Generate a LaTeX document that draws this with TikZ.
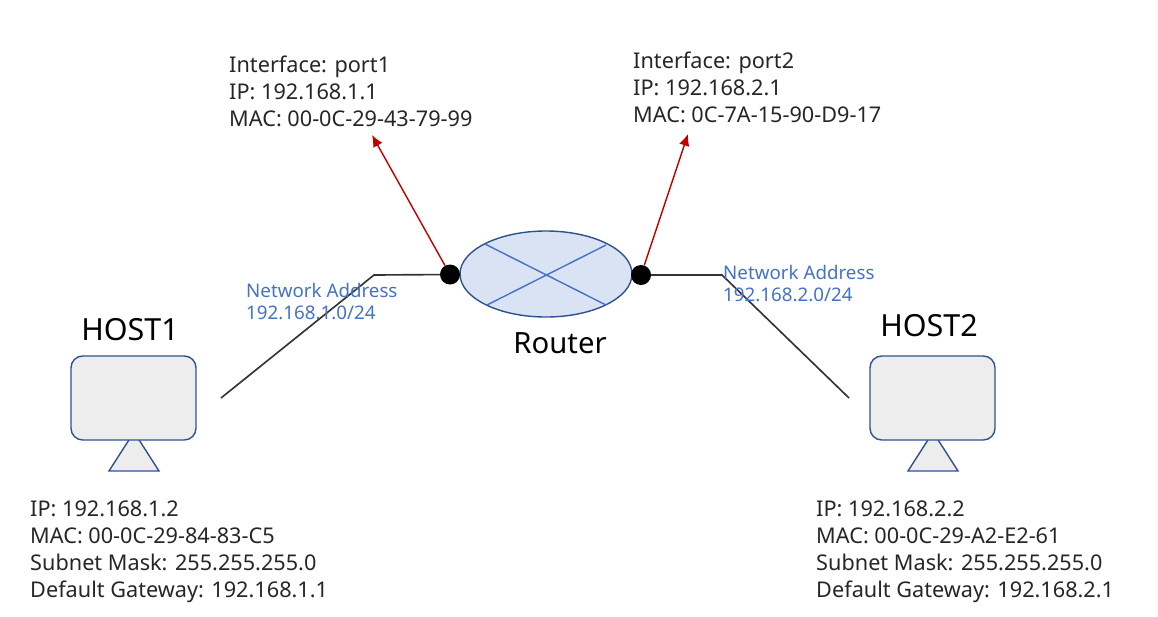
\documentclass[tikz,border=0pt]{standalone}
\usepackage{fontspec}
\usetikzlibrary{shapes.geometric,arrows.meta}
\setmainfont{Noto Sans}
\definecolor{shapeblue}{RGB}{47,82,143}
\definecolor{linkblue}{RGB}{68,114,196}
\definecolor{routerfill}{RGB}{218,227,243}
\definecolor{hostfill}{RGB}{237,237,237}
\definecolor{portred}{RGB}{192,0,0}
\tikzset{
  infotext/.style={anchor=north west,align=left,inner sep=0pt,font=\fontsize{18.5}{23}\selectfont,text=black!85},
  nettext/.style={anchor=north west,align=left,inner sep=0pt,font=\fontsize{16}{18.6}\selectfont,text=linkblue},
  titletext/.style={inner sep=0pt,font=\fontsize{26}{30}\selectfont},
  hostbox/.style={draw=shapeblue,fill=hostfill,line width=1.2pt,rounded corners=10pt},
  wire/.style={draw=black!80,line width=1.4pt},
  portdot/.style={circle,fill=black,inner sep=0pt,minimum size=0.6cm},
  redarrow/.style={-{Latex[length=10pt,width=9pt]},draw=portred,line width=1.2pt}
}
\begin{document}
\begin{tikzpicture}[x=0.03cm,y=-0.03cm]
  \useasboundingbox (0,0) rectangle (1158,616);

  % Router
  \node (router) at (546,274) [ellipse,draw=shapeblue,fill=routerfill,line width=1.2pt,minimum width=5.16cm,minimum height=2.58cm,inner sep=0pt] {};
  \draw[linkblue,line width=1.2pt] (485,244) -- (606,305);
  \draw[linkblue,line width=1.2pt] (487,305) -- (606,245);
  \node (routername) at (560,343) [titletext,font=\fontsize{25}{30}\selectfont] {Router};

  % Ports
  \node (port1) at (450,274.5) [portdot] {};
  \node (port2) at (641,275) [portdot] {};

  % Hosts (stand first, the screen hides its tip)
  \draw[shapeblue,fill=hostfill,line width=1.2pt] (134,432) -- (159,471) -- (109,471) -- cycle;
  \node (host1) at (133.5,398) [hostbox,minimum width=3.75cm,minimum height=2.52cm] {};
  \draw[shapeblue,fill=hostfill,line width=1.2pt] (933,432) -- (958,471) -- (908,471) -- cycle;
  \node (host2) at (932.5,398) [hostbox,minimum width=3.75cm,minimum height=2.52cm] {};
  \node (host1name) at (130,330) [titletext] {HOST1};
  \node (host2name) at (929,326) [titletext] {HOST2};

  % Wires
  \coordinate (wire1end) at (221,398);
  \coordinate (wire1bend) at (374,275);
  \coordinate (wire2bend) at (722,275);
  \coordinate (wire2end) at (849,398);
  \draw[wire] (wire1end) -- (wire1bend) -- (port1);
  \draw[wire] (port2) -- (wire2bend) -- (wire2end);

  % Interface info
  \node (info1) at (229,56) [infotext] {Interface: port1\\IP: 192.168.1.1\\MAC: 00-0C-29-43-79-99};
  \node (info2) at (633,52) [infotext] {Interface: port2\\IP: 192.168.2.1\\MAC: 0C-7A-15-90-D9-17};
  \coordinate (arrow1) at (372,135);
  \coordinate (arrow2) at (688,134);
  \draw[redarrow] (port1) -- (arrow1);
  \draw[redarrow] (port2) -- (arrow2);

  % Networks
  \node (net1) at (246,283) [nettext] {Network Address\\192.168.1.0/24};
  \node (net2) at (723,265) [nettext] {Network Address\\192.168.2.0/24};

  % Host info
  \node (hostinfo1) at (30,500.5) [infotext] {IP: 192.168.1.2\\MAC: 00-0C-29-84-83-C5\\Subnet Mask: 255.255.255.0\\Default Gateway: 192.168.1.1};
  \node (hostinfo2) at (816,500.5) [infotext] {IP: 192.168.2.2\\MAC: 00-0C-29-A2-E2-61\\Subnet Mask: 255.255.255.0\\Default Gateway: 192.168.2.1};
\end{tikzpicture}
\end{document}
